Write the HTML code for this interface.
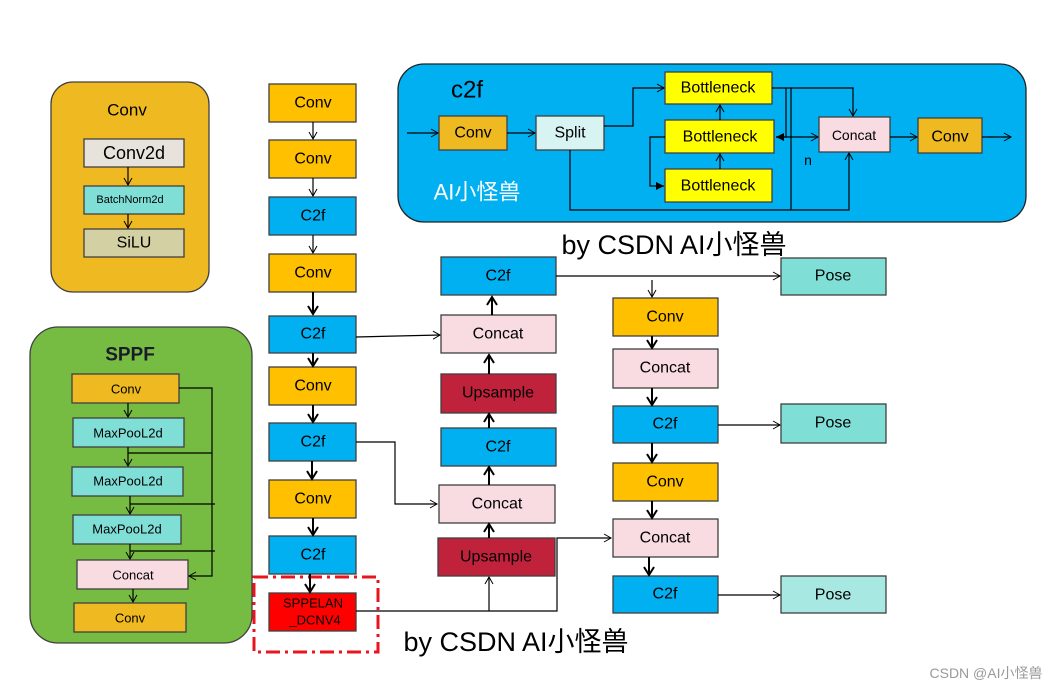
<!DOCTYPE html>
<html><head><meta charset="utf-8"><style>
body{margin:0;background:#fff}
svg text{font-family:"Liberation Sans","Noto Sans CJK SC",sans-serif;text-anchor:middle;dominant-baseline:central}
</style></head><body>
<svg width="1060" height="691" viewBox="0 0 1060 691" xmlns="http://www.w3.org/2000/svg">
<defs>
<marker id="a" markerWidth="10" markerHeight="10" refX="8" refY="5" orient="auto" markerUnits="userSpaceOnUse"><path d="M1,1 L8,5 L1,9" fill="none" stroke="#000" stroke-width="1"/></marker>
<marker id="b" markerWidth="12" markerHeight="12" refX="9" refY="6" orient="auto" markerUnits="userSpaceOnUse"><path d="M1,1 L9,6 L1,11" fill="none" stroke="#000" stroke-width="2"/></marker>
<marker id="f" markerWidth="10" markerHeight="10" refX="8" refY="5" orient="auto" markerUnits="userSpaceOnUse"><path d="M0,1 L8,5 L0,9z" fill="#000"/></marker>
</defs>
<g stroke="#404040" stroke-width="1.3">
<!-- Conv panel -->
<rect x="51" y="82" width="158" height="210" rx="22" fill="#efba21"/>
<rect x="84" y="139" width="100" height="28" fill="#e7e3dc"/>
<rect x="84" y="186" width="100" height="28" fill="#7fdfd6"/>
<rect x="84" y="229" width="100" height="28" fill="#d3d0a4"/>
<!-- SPPF -->
<rect x="30" y="327" width="222" height="316" rx="28" fill="#76bc42"/>
<rect x="72" y="374" width="107" height="29" fill="#efba21"/>
<rect x="73" y="418" width="111" height="29" fill="#7fdfd6"/>
<rect x="72" y="467" width="111" height="29" fill="#7fdfd6"/>
<rect x="73" y="515" width="108" height="29" fill="#7fdfd6"/>
<rect x="77" y="560" width="111" height="29" fill="#f8dce1"/>
<rect x="74" y="603" width="112" height="29" fill="#efba21"/>
<!-- c2f panel -->
<rect x="398" y="64" width="628" height="158" rx="26" fill="#00b0f0" stroke="#222"/>
<rect x="439" y="116" width="68" height="34" fill="#efba21"/>
<rect x="536" y="116" width="68" height="34" fill="#d7f3f2"/>
<rect x="665" y="72" width="107" height="32" fill="#ffff00"/>
<rect x="665" y="120" width="109" height="33" fill="#ffff00"/>
<rect x="665" y="169" width="107" height="33" fill="#ffff00"/>
<rect x="819" y="117" width="71" height="35" fill="#f8dce1"/>
<rect x="918" y="118" width="64" height="35" fill="#efba21"/>
<!-- backbone -->
<rect x="269" y="84" width="87" height="38" fill="#ffc000"/>
<rect x="269" y="140" width="87" height="38" fill="#ffc000"/>
<rect x="269" y="197" width="87" height="38" fill="#00b0f0"/>
<rect x="269" y="254" width="87" height="38" fill="#ffc000"/>
<rect x="269" y="316" width="87" height="37" fill="#00b0f0"/>
<rect x="269" y="367" width="87" height="38" fill="#ffc000"/>
<rect x="269" y="423" width="87" height="38" fill="#00b0f0"/>
<rect x="269" y="480" width="87" height="38" fill="#ffc000"/>
<rect x="269" y="536" width="87" height="38" fill="#00b0f0"/>
<rect x="269" y="593" width="87" height="38" fill="#ff0000"/>
<!-- col2 -->
<rect x="441" y="257" width="115" height="38" fill="#00b0f0"/>
<rect x="441" y="315" width="115" height="38" fill="#f8dce1"/>
<rect x="441" y="374" width="115" height="39" fill="#c0223c"/>
<rect x="441" y="428" width="115" height="38" fill="#00b0f0"/>
<rect x="439" y="485" width="116" height="38" fill="#f8dce1"/>
<rect x="438" y="538" width="117" height="38" fill="#c0223c"/>
<!-- col3 -->
<rect x="613" y="298" width="105" height="38" fill="#ffc000"/>
<rect x="613" y="349" width="105" height="39" fill="#f8dce1"/>
<rect x="613" y="406" width="105" height="37" fill="#00b0f0"/>
<rect x="613" y="463" width="105" height="38" fill="#ffc000"/>
<rect x="613" y="519" width="105" height="38" fill="#f8dce1"/>
<rect x="613" y="576" width="105" height="37" fill="#00b0f0"/>
<rect x="781" y="258" width="105" height="37" fill="#7fdfd6"/>
<rect x="781" y="404" width="105" height="39" fill="#7fdfd6"/>
<rect x="781" y="576" width="105" height="37" fill="#a8e8e2"/>
</g>
<rect x="254" y="577" width="124" height="75" fill="none" stroke="#e8141e" stroke-width="3" stroke-dasharray="14,5,3,5"/>
<g fill="none" stroke="#000" stroke-width="1.2">
<!-- conv panel -->
<path d="M128 167V185" marker-end="url(#a)"/><path d="M128 214V228" marker-end="url(#a)"/>
<!-- sppf -->
<path d="M128 403V417" marker-end="url(#a)"/><path d="M128 447V466" marker-end="url(#a)"/>
<path d="M130 496V514" marker-end="url(#a)"/><path d="M130 544V559" marker-end="url(#a)"/>
<path d="M133 589V602" marker-end="url(#a)"/>
<path d="M179 388H212V576H189" marker-end="url(#a)"/>
<path d="M128 453H212M130 504H215M130 551H215"/>
<!-- backbone thin -->
<path d="M313 122V139" marker-end="url(#a)"/><path d="M313 178V196" marker-end="url(#a)"/><path d="M313 235V253" marker-end="url(#a)"/>
</g>
<g fill="none" stroke="#000" stroke-width="2">
<path d="M313 292V314" marker-end="url(#b)"/><path d="M313 353V366" marker-end="url(#b)"/>
<path d="M313 405V422" marker-end="url(#b)"/><path d="M312 461V479" marker-end="url(#b)"/>
<path d="M313 518V535" marker-end="url(#b)"/><path d="M310 574V592" marker-end="url(#b)"/>
<path d="M492 315V297" marker-end="url(#b)"/><path d="M489 374V355" marker-end="url(#b)"/>
<path d="M489 428V414" marker-end="url(#b)"/><path d="M489 485V467" marker-end="url(#b)"/>
<path d="M489 538V524" marker-end="url(#b)"/>
<path d="M652 336V348" marker-end="url(#b)"/><path d="M652 388V405" marker-end="url(#b)"/>
<path d="M652 443V462" marker-end="url(#b)"/><path d="M652 501V518" marker-end="url(#b)"/>
<path d="M649 557V575" marker-end="url(#b)"/>
</g>
<g fill="none" stroke="#000" stroke-width="1.2">
<path d="M356 337L440 335" marker-end="url(#a)"/>
<path d="M356 442H395V504H437" marker-end="url(#a)"/>
<path d="M356 611H557V538H611" marker-end="url(#a)"/>
<path d="M489 611V577" marker-end="url(#a)"/>
<path d="M556 276H780" marker-end="url(#a)"/>
<path d="M652 280V297" marker-end="url(#a)"/>
<path d="M718 425H780" marker-end="url(#a)"/>
<path d="M718 595H780" marker-end="url(#a)"/>
<!-- c2f -->
<path d="M407 133H438" marker-end="url(#a)"/><path d="M507 133H535" marker-end="url(#a)"/>
<path d="M604 126H633V88H664" marker-end="url(#a)"/>
<path d="M720 120V105" marker-end="url(#a)"/><path d="M720 169V154" marker-end="url(#a)"/>
<path d="M665 137H650V186H664" marker-end="url(#f)"/>
<path d="M772 88H853V116" marker-end="url(#a)"/>
<path d="M713 88"/>
<path d="M786 88V137H776" marker-end="url(#f)"/>
<path d="M791 88V210"/>
<path d="M776 137H818" marker-end="url(#a)"/>
<path d="M570 150V210H849V153" marker-end="url(#a)"/>
<path d="M890 137H917" marker-end="url(#a)"/><path d="M982 137H1011" marker-end="url(#a)"/>
</g>
<g fill="#000" font-size="16">
<text x="127" y="110" font-size="17">Conv</text>
<text x="134" y="153" font-size="18">Conv2d</text>
<text x="130" y="200" font-size="11">BatchNorm2d</text>
<text x="134" y="243" font-size="16">SiLU</text>
<text x="130" y="355" font-size="19" font-weight="bold" fill="#1a1a2a">SPPF</text>
<text x="126" y="389" font-size="13">Conv</text>
<text x="128" y="433" font-size="13">MaxPooL2d</text>
<text x="128" y="481" font-size="13">MaxPooL2d</text>
<text x="127" y="529" font-size="13">MaxPooL2d</text>
<text x="133" y="575" font-size="13">Concat</text>
<text x="130" y="618" font-size="13">Conv</text>
<text x="313" y="103">Conv</text><text x="313" y="159">Conv</text><text x="313" y="216">C2f</text>
<text x="313" y="273">Conv</text><text x="313" y="334">C2f</text><text x="313" y="386">Conv</text>
<text x="313" y="442">C2f</text><text x="313" y="499">Conv</text><text x="313" y="555">C2f</text>
<text x="313" y="603" font-size="13">SPPELAN</text><text x="315" y="620" font-size="13">_DCNV4</text>
<text x="498" y="276">C2f</text><text x="498" y="334">Concat</text><text x="498" y="393">Upsample</text>
<text x="498" y="447">C2f</text><text x="497" y="504">Concat</text><text x="496" y="557">Upsample</text>
<text x="665" y="317">Conv</text><text x="665" y="368">Concat</text><text x="665" y="424">C2f</text>
<text x="665" y="482">Conv</text><text x="665" y="538">Concat</text><text x="665" y="594">C2f</text>
<text x="833" y="276">Pose</text><text x="833" y="423">Pose</text><text x="833" y="595">Pose</text>
<text x="467" y="90" font-size="24">c2f</text>
<text x="473" y="133">Conv</text><text x="570" y="133">Split</text>
<text x="718" y="88">Bottleneck</text><text x="720" y="137">Bottleneck</text><text x="718" y="186">Bottleneck</text>
<text x="854" y="135" font-size="14">Concat</text><text x="950" y="137">Conv</text>
<text x="808" y="160" font-size="14">n</text>
<text x="477" y="192" font-size="22" fill="#fff">AI小怪兽</text>
<text x="674" y="245" font-size="27">by CSDN AI小怪兽</text>
<text x="516" y="642" font-size="27">by CSDN AI小怪兽</text>
<text x="986" y="673" font-size="14" fill="#999">CSDN @AI小怪兽</text>
</g>
</svg>
</body></html>
